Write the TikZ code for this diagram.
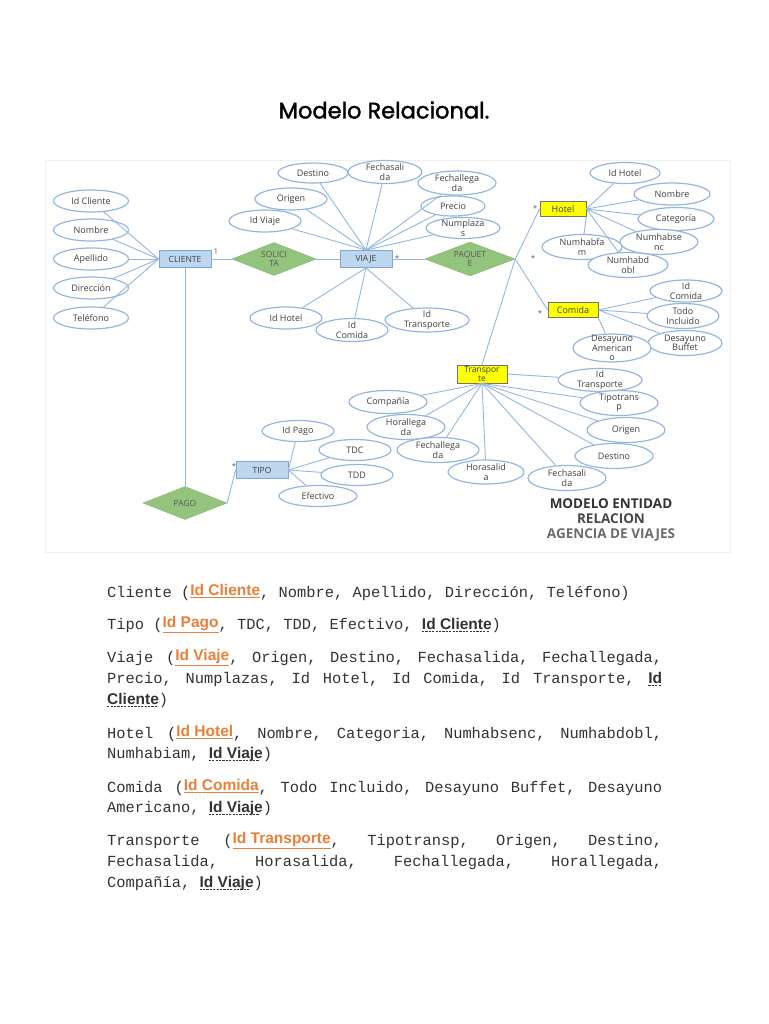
\documentclass[tikz,border=0pt]{standalone}
\usepackage{fontspec}
\setmainfont{Liberation Sans}
\setmonofont{Liberation Mono}
\newfontfamily\erfont{Open Sans}
\newfontfamily\titlefont{Poppins}[FakeBold=1.6]
\usetikzlibrary{shapes.geometric,positioning}

\definecolor{erline}{HTML}{95B7DE}
\definecolor{erentfill}{HTML}{BDD7EE}
\definecolor{erentdraw}{HTML}{7EA6D4}
\definecolor{errelfill}{HTML}{93C47D}
\definecolor{errelDraw}{HTML}{82B56B}
\definecolor{weakfill}{HTML}{FFFF00}
\definecolor{keyorange}{HTML}{E8803A}

\newsavebox{\keybox}
\newcommand{\keyfont}{\rmfamily\bfseries\fontsize{15.5}{18}\selectfont\spaceskip=0pt\relax}
\newcommand{\pkey}[1]{{\color{keyorange}\raisebox{1.5pt}{\underline{\keyfont #1}}}}
\newcommand{\fkey}[1]{\sbox{\keybox}{\keyfont #1}\rlap{\raisebox{-3.2pt}{\hbox to \wd\keybox{\leaders\hbox to 3.4pt{\rule{2.2pt}{1.1pt}\hss}\hfill}}}\usebox{\keybox}}
\newcommand{\jline}[1]{{\spaceskip=0.6em plus 1fil\relax\makebox[555pt][s]{#1}}}

\begin{document}
\begin{tikzpicture}[
  x=1pt, y=-1pt,
  attr/.style={ellipse, draw=erline, line width=1.2pt, fill=white,
               minimum width=72pt, minimum height=22pt, inner xsep=0pt,
               inner ysep=-2pt, align=center, text=black!75,
               font=\erfont\fontsize{9}{9.5}\selectfont},
  ent/.style={rectangle, draw=erentdraw, line width=0.8pt, fill=erentfill,
              minimum width=52pt, minimum height=17pt, inner sep=0pt,
              text=black!75, font=\erfont\fontsize{8.5}{9}\selectfont},
  weak/.style={ent, draw=black!55, fill=weakfill, minimum width=46pt,
               minimum height=15pt, align=center, text=black!75,
               font=\erfont\fontsize{9}{9.5}\selectfont},
  rel/.style={diamond, aspect=2.5, draw=errelDraw, fill=errelfill,
              minimum width=84pt, minimum height=33pt, inner sep=0pt,
              align=center, text=black!65,
              font=\erfont\fontsize{8.5}{9.5}\selectfont},
  conn/.style={draw=erline, line width=0.9pt},
  card/.style={inner sep=0pt, text=black!60,
               font=\erfont\fontsize{8}{9}\selectfont},
  banner/.style={inner sep=0pt, font=\erfont\bfseries\fontsize{13.5}{15}\selectfont},
  txtline/.style={anchor=base west, inner sep=0pt, text=black!80,
                  font=\ttfamily\fontsize{15.4}{18}\selectfont}
]
\useasboundingbox (0,0) rectangle (768,1024);
\fill[white] (0,0) rectangle (768,1024);

% title
\node[font=\titlefont\fontsize{22.5}{26}\selectfont] (title) at (384,110) {Modelo Relacional.};

% screenshot frame
\draw[black!6] (45,160) rectangle (730,552);

% cliente
\node[ent] (cliente) at (185,259) {CLIENTE};
\node[attr, minimum width=75pt] (idcli) at (91,201) {Id Cliente};
\node[attr, minimum width=75pt] (nomcli) at (91,230) {Nombre};
\node[attr, minimum width=75pt] (apecli) at (91,259) {Apellido};
\node[attr, minimum width=75pt] (dircli) at (91,288) {Dirección};
\node[attr, minimum width=75pt] (telcli) at (91,318) {Teléfono};
\foreach \b in {idcli, nomcli, apecli, dircli, telcli}
  \draw[conn] (cliente.west) -- (\b);

% viaje
\node[rel] (solicita) at (274,259) {SOLICI\\TA};
\node[ent] (viaje) at (366,259) {VIAJE};
\node[rel, minimum width=90pt, minimum height=34pt] (paquete) at (470,259) {PAQUET\\E};
\node[attr, minimum width=70pt, minimum height=20pt] (vdestino) at (313,173) {Destino};
\node[attr, minimum width=74pt, minimum height=23pt] (vfsalida) at (385,172) {Fechasali\\da};
\node[attr, minimum width=78pt, minimum height=24pt] (vfllegada) at (457,183) {Fechallega\\da};
\node[attr] (vorigen) at (291,199) {Origen};
\node[attr, minimum width=64pt, minimum height=20pt] (vprecio) at (453,206) {Precio};
\node[attr] (vidviaje) at (265,221) {Id Viaje};
\node[attr, minimum width=74pt, minimum height=21pt] (vplazas) at (463,228) {Numplaza\\s};
\node[attr] (vidhotel) at (286,318) {Id Hotel};
\node[attr, minimum height=23pt] (vidcomida) at (352,330) {Id\\Comida};
\node[attr, minimum width=84pt, minimum height=24pt] (vidtransp) at (427,320) {Id\\Transporte};
\foreach \b in {vdestino, vfsalida, vfllegada, vorigen, vprecio, vidviaje, vplazas}
  \draw[conn] (viaje.north) -- (\b);
\foreach \b in {vidhotel, vidcomida, vidtransp}
  \draw[conn] (viaje.south) -- (\b);
\draw[conn] (cliente) -- (solicita);
\draw[conn] (solicita) -- (viaje);
\draw[conn] (viaje) -- (paquete);
\node[card] (c1) at (216,252) {1};
\node[card] (c2) at (397,258) {*};

% hotel
\node[weak] (hotel) at (563,209) {Hotel};
\node[attr, minimum width=70pt, minimum height=21pt] (hidhotel) at (625,173) {Id Hotel};
\node[attr, minimum width=76pt] (hnombre) at (672,194) {Nombre};
\node[attr, minimum width=76pt, minimum height=23pt] (hcateg) at (676,219) {Categoría};
\node[attr, minimum width=78pt, minimum height=25pt] (hsenc) at (659,242) {Numhabse\\nc};
\node[attr, minimum width=80pt, minimum height=25pt] (hfam) at (582,247) {Numhabfa\\m};
\node[attr, minimum width=80pt, minimum height=25pt] (hdobl) at (628,265) {Numhabd\\obl};
\foreach \b in {hidhotel, hnombre, hcateg, hsenc, hdobl}
  \draw[conn] (hotel.east) -- (\b);
\draw[conn] (hotel.south east) -- (hfam);

% comida
\node[weak, minimum width=50pt] (comida) at (573,310) {Comida};
\node[attr, minimum height=22pt] (cidcomida) at (686,291) {Id\\Comida};
\node[attr, minimum height=25pt] (ctodo) at (683,316) {Todo\\Incluido};
\node[attr, minimum width=74pt, minimum height=25pt] (cbuffet) at (685,343) {Desayuno\\Buffet};
\node[attr, minimum width=78pt, minimum height=28pt, inner ysep=-5pt] (camer) at (612,348) {Desayuno\\American\\o};
\foreach \b in {cidcomida, ctodo, cbuffet}
  \draw[conn] (comida.east) -- (\b);
\draw[conn] (comida.south east) -- (camer);

% transporte
\node[weak, minimum width=50pt, minimum height=18pt, font=\erfont\fontsize{8.5}{8.5}\selectfont] (transp) at (482,374) {Transpor\\te};
\node[attr, minimum width=84pt, minimum height=23pt] (tidtransp) at (600,380) {Id\\Transporte};
\node[attr, minimum width=78pt, minimum height=23pt] (tcompania) at (388,402) {Compañía};
\node[attr, minimum width=78pt, minimum height=25pt] (ttipo) at (619,403) {Tipotrans\\p};
\node[attr, minimum width=78pt, minimum height=25pt] (thorall) at (406,427) {Horallega\\da};
\node[attr, minimum width=78pt, minimum height=25pt] (torigen) at (626,430) {Origen};
\node[attr, minimum width=82pt, minimum height=25pt] (tfechall) at (438,450) {Fechallega\\da};
\node[attr, minimum width=78pt, minimum height=25pt] (tdestino) at (614,456) {Destino};
\node[attr, minimum width=76pt, minimum height=24pt] (thorasal) at (486,472) {Horasalid\\a};
\node[attr, minimum width=78pt, minimum height=25pt] (tfechasal) at (567,478) {Fechasali\\da};
\draw[conn] (transp.east) -- (tidtransp);
\foreach \b in {tcompania, ttipo, thorall, torigen, tfechall, tdestino, thorasal, tfechasal}
  \draw[conn] (transp.south) -- (\b);

% paquete links
\draw[conn] (paquete.east) -- (hotel.west);
\draw[conn] (paquete.east) -- (comida.west);
\draw[conn] (paquete.east) -- (transp.north);
\node[card] (c3) at (535,208) {*};
\node[card] (c4) at (533,258) {*};
\node[card] (c5) at (540,313) {*};

% pago / tipo
\node[rel] (pago) at (185,503) {PAGO};
\node[ent] (tipo) at (262,470) {TIPO};
\node[attr, minimum height=21pt] (pidpago) at (298,431) {Id Pago};
\node[attr, minimum height=21pt] (ptdc) at (355,450) {TDC};
\node[attr, minimum height=21pt] (ptdd) at (357,475) {TDD};
\node[attr, minimum width=78pt, minimum height=21pt] (pefect) at (318,496) {Efectivo};
\foreach \b in {pidpago, ptdc, ptdd, pefect}
  \draw[conn] (tipo.east) -- (\b);
\draw[conn] (cliente.south) -- (pago.north);
\draw[conn] (pago.east) -- (tipo.west);
\node[card] (c6) at (234,466) {*};

% banner
\node[banner, text=black!80] (ban1) at (611,504) {MODELO ENTIDAD};
\node[banner, text=black!72] (ban2) at (611,519) {RELACION};
\node[banner, text=black!58] (ban3) at (611,535) {AGENCIA DE VIAJES};

% relational schema
\node[txtline] (rl1) at (107,597) {Cliente (\pkey{Id Cliente}, Nombre, Apellido, Dirección, Teléfono)};
\node[txtline] (rl2) at (107,629) {Tipo (\pkey{Id Pago}, TDC, TDD, Efectivo, \fkey{Id Cliente})};
\node[txtline] (rl3) at (107,662) {\jline{Viaje (\pkey{Id Viaje}, Origen, Destino, Fechasalida, Fechallegada,}};
\node[txtline] (rl4) at (107,683) {\jline{Precio, Numplazas, Id Hotel, Id Comida, Id Transporte, \fkey{Id}}};
\node[txtline] (rl5) at (107,704) {\fkey{Cliente})};
\node[txtline] (rl6) at (107,738) {\jline{Hotel (\pkey{Id Hotel}, Nombre, Categoria, Numhabsenc, Numhabdobl,}};
\node[txtline] (rl7) at (107,758) {Numhabiam, \fkey{Id Viaje})};
\node[txtline] (rl8) at (107,792) {\jline{Comida (\pkey{Id Comida}, Todo Incluido, Desayuno Buffet, Desayuno}};
\node[txtline] (rl9) at (107,812) {Americano, \fkey{Id Viaje})};
\node[txtline] (rl10) at (107,845) {\jline{Transporte (\pkey{Id Transporte}, Tipotransp, Origen, Destino,}};
\node[txtline] (rl11) at (107,866) {\jline{Fechasalida, Horasalida, Fechallegada, Horallegada,}};
\node[txtline] (rl12) at (107,887) {Compañía, \fkey{Id Viaje})};
\end{tikzpicture}
\end{document}
